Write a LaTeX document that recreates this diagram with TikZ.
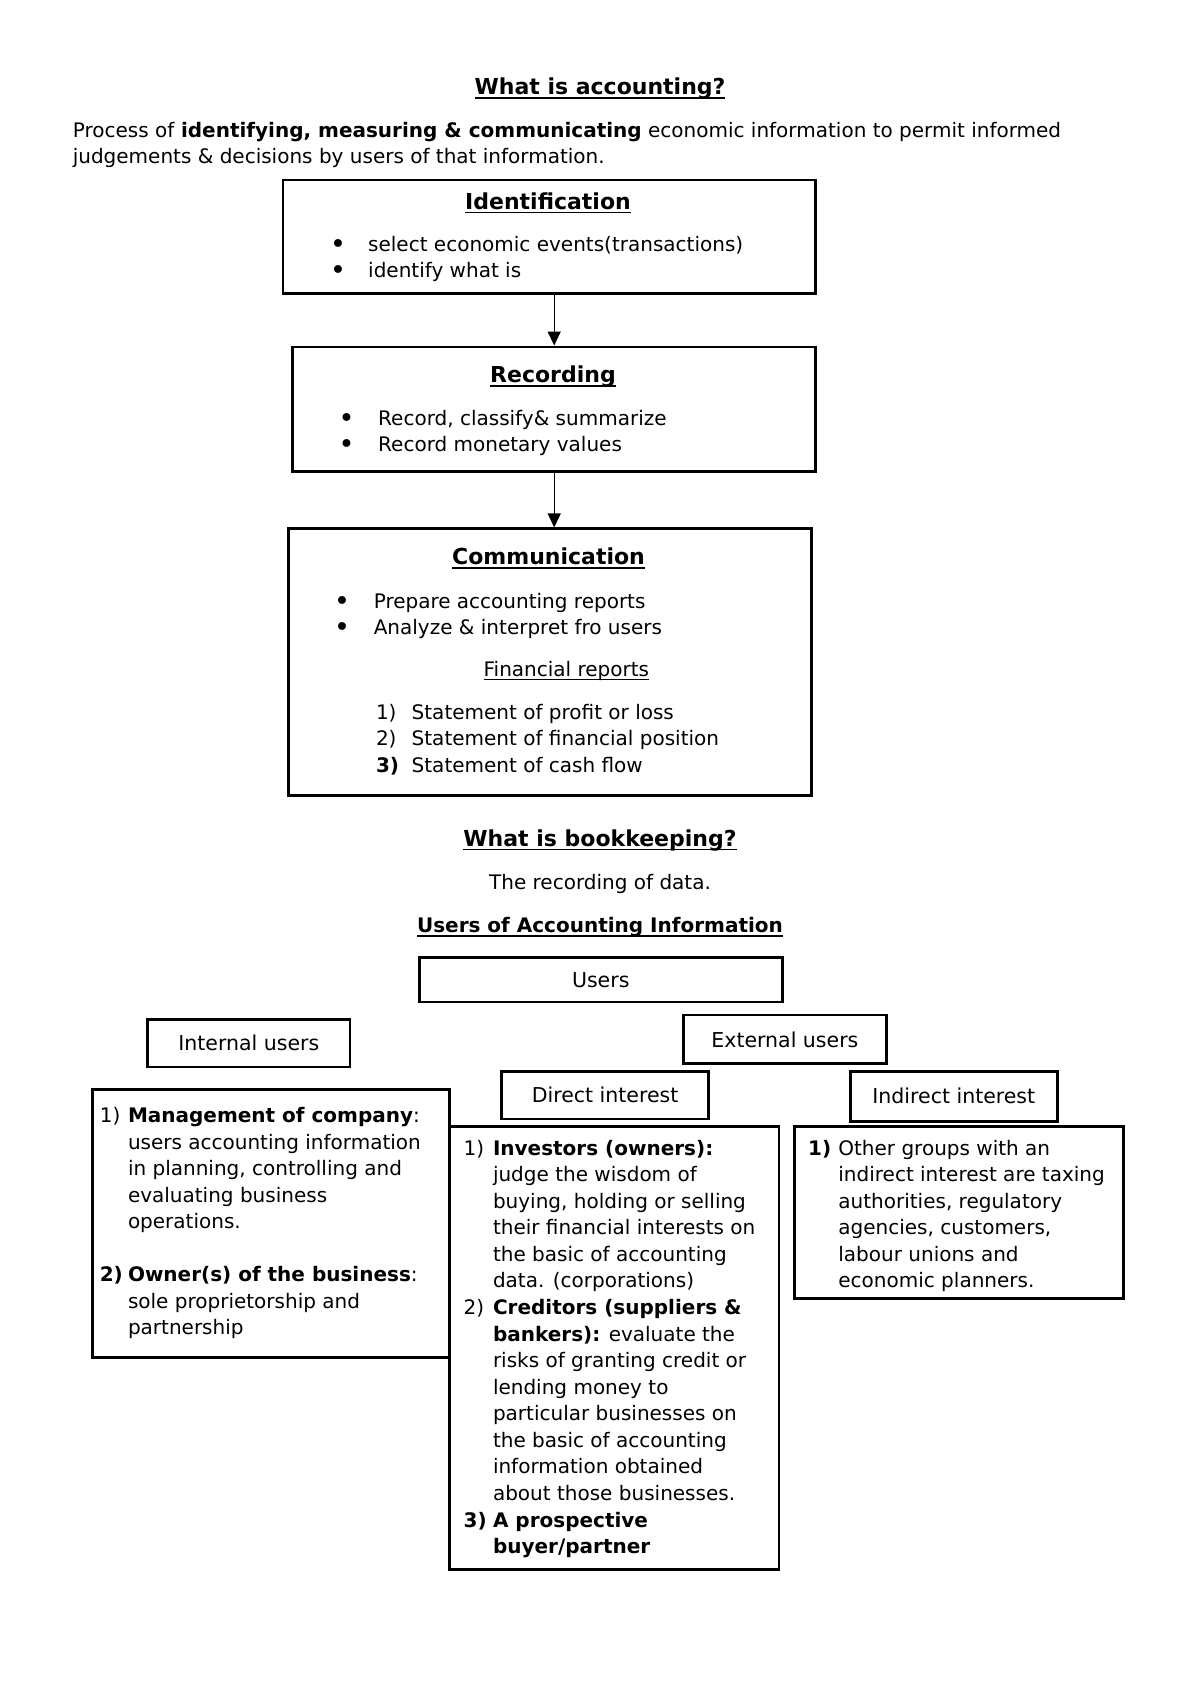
\documentclass[tikz,border=0pt]{standalone}
\usepackage{fontspec}
\setmainfont{DejaVu Sans}
\usetikzlibrary{arrows.meta}
\newcommand\myul[1]{\setbox0\hbox{#1}\rlap{\rule[-4pt]{\wd0}{1.6pt}}\box0}
\newcount\lnc
\newcommand\tl[4][]{\global\advance\lnc by 1\relax\node[txt,#1] (t\the\lnc) at (#2,#3) {#4};}
\begin{document}
\begin{tikzpicture}[x=1pt,y=-1pt,
 txt/.style={anchor=base west,inner sep=0pt,font=\fontsize{20}{24}\selectfont},
 bul/.style={anchor=base,font=\fontsize{27}{30}\selectfont},
 hd/.style={anchor=base,inner sep=0pt,font=\fontsize{22}{26}\selectfont\bfseries},
 box/.style={draw,line width=2.7pt,anchor=north west,inner sep=0pt},
 lbl/.style={box,font=\fontsize{20.5}{24}\selectfont},
 arr/.style={line width=1.4pt,-{Triangle[length=14pt,width=13pt]}}]
\fill[white] (0,0) rectangle (1200,1698);
\useasboundingbox (0,0) rectangle (1200,1698);

% ---- What is accounting ----
\node[hd] (title1) at (600,94.5) {\myul{What is accounting?}};
\tl{72.6}{137}{Process of \textbf{identifying, measuring \& communicating} economic information to permit informed}
\tl{72.6}{163}{judgements \& decisions by users of that information.}

% ---- boxes of the process ----
\node[box,minimum width=532.8pt,minimum height=113.7pt] (ident) at (281.6,178.7) {};
\node[box,minimum width=523.1pt,minimum height=124.5pt] (rec) at (291.3,345.5) {};
\node[box,minimum width=523pt,minimum height=266.4pt] (comm) at (287,527.4) {};
\draw[arr] (rec.north |- ident.south) -- (rec.north);
\draw[arr] (rec.south) -- (rec.south |- comm.north);

\node[hd] (identh) at (548,209.4) {\myul{Identification}};
\tl[bul]{338}{253.8}{\textbullet}
\tl{368}{251.8}{select economic events(transactions)}
\tl[bul]{338}{279.8}{\textbullet}
\tl{368}{277.8}{identify what is}

\node[hd] (rech) at (553,382.7) {\myul{Recording}};
\tl[bul]{346.6}{427}{\textbullet}
\tl{378}{425}{Record, classify\& summarize}
\tl[bul]{346.6}{453}{\textbullet}
\tl{378}{451}{Record monetary values}

\node[hd] (commh) at (548.5,564.7) {\myul{Communication}};
\tl[bul]{342}{610}{\textbullet}
\tl{373.6}{608}{Prepare accounting reports}
\tl[bul]{342}{636}{\textbullet}
\tl{373.6}{634}{Analyze \& interpret fro users}
\tl[anchor=base]{566.4}{676.3}{\myul{Financial reports}}
\tl{375.8}{719.6}{1)}
\tl{411.5}{719.6}{Statement of profit or loss}
\tl{375.8}{745.6}{2)}
\tl{411.5}{745.6}{Statement of financial position}
\tl{375.8}{772.7}{\textbf{3)}}
\tl{411.5}{772.7}{Statement of cash flow}

% ---- bookkeeping ----
\node[hd] (title2) at (600,846.2) {\myul{What is bookkeeping?}};
\tl[anchor=base]{600}{889.6}{The recording of data.}
\tl[anchor=base]{600}{932.9}{\myul{\textbf{Users of Accounting Information}}}

% ---- users tree ----
\node[lbl,minimum width=362.8pt,minimum height=44.4pt] (users) at (418,956.3) {Users};
\node[lbl,minimum width=202.5pt,minimum height=47.7pt] (internal) at (146.2,1018) {Internal users};
\node[lbl,minimum width=202.5pt,minimum height=48.7pt] (external) at (682.3,1013.7) {External users};
\node[lbl,minimum width=206.9pt,minimum height=47.7pt] (direct) at (500.3,1070) {Direct interest};
\node[lbl,minimum width=206.9pt,minimum height=49.8pt] (indirect) at (849,1070) {Indirect interest};

\node[box,minimum width=357.4pt,minimum height=267.5pt] (intbox) at (91,1088.4) {};
\node[box,minimum width=329.2pt,minimum height=443pt] (dirbox) at (448.4,1125.2) {};
\node[box,minimum width=329.2pt,minimum height=172.2pt] (indbox) at (792.8,1125.2) {};

% internal users text
\tl{99.6}{1122.5}{1)}
\tl{127.8}{1122.5}{\textbf{Management of company}:}
\tl{127.8}{1149}{users accounting information}
\tl{127.8}{1175.5}{in planning, controlling and}
\tl{127.8}{1202}{evaluating business}
\tl{127.8}{1228.5}{operations.}
\tl{99.6}{1281.5}{\textbf{2)}}
\tl{127.8}{1281.5}{\textbf{Owner(s) of the business}:}
\tl{127.8}{1308}{sole proprietorship and}
\tl{127.8}{1334.5}{partnership}

% direct interest text
\tl{463.5}{1155}{1)}
\tl{492.8}{1155}{\textbf{Investors (owners):}}
\tl{492.8}{1181.6}{judge the wisdom of}
\tl{492.8}{1208.1}{buying, holding or selling}
\tl{492.8}{1234.7}{their financial interests on}
\tl{492.8}{1261.3}{the basic of accounting}
\tl{492.8}{1287.9}{data. (corporations)}
\tl{463.5}{1314.4}{2)}
\tl{492.8}{1314.4}{\textbf{Creditors (suppliers \&}}
\tl{492.8}{1341}{\textbf{bankers):} evaluate the}
\tl{492.8}{1367.6}{risks of granting credit or}
\tl{492.8}{1394.1}{lending money to}
\tl{492.8}{1420.7}{particular businesses on}
\tl{492.8}{1447.3}{the basic of accounting}
\tl{492.8}{1473.8}{information obtained}
\tl{492.8}{1500.4}{about those businesses.}
\tl{463.5}{1527}{\textbf{3)}}
\tl{492.8}{1527}{\textbf{A prospective}}
\tl{492.8}{1553.6}{\textbf{buyer/partner}}

% indirect interest text
\tl{808}{1155}{\textbf{1)}}
\tl{838.2}{1155}{Other groups with an}
\tl{838.2}{1181.6}{indirect interest are taxing}
\tl{838.2}{1208.1}{authorities, regulatory}
\tl{838.2}{1234.7}{agencies, customers,}
\tl{838.2}{1261.3}{labour unions and}
\tl{838.2}{1287.9}{economic planners.}
\end{tikzpicture}
\end{document}
